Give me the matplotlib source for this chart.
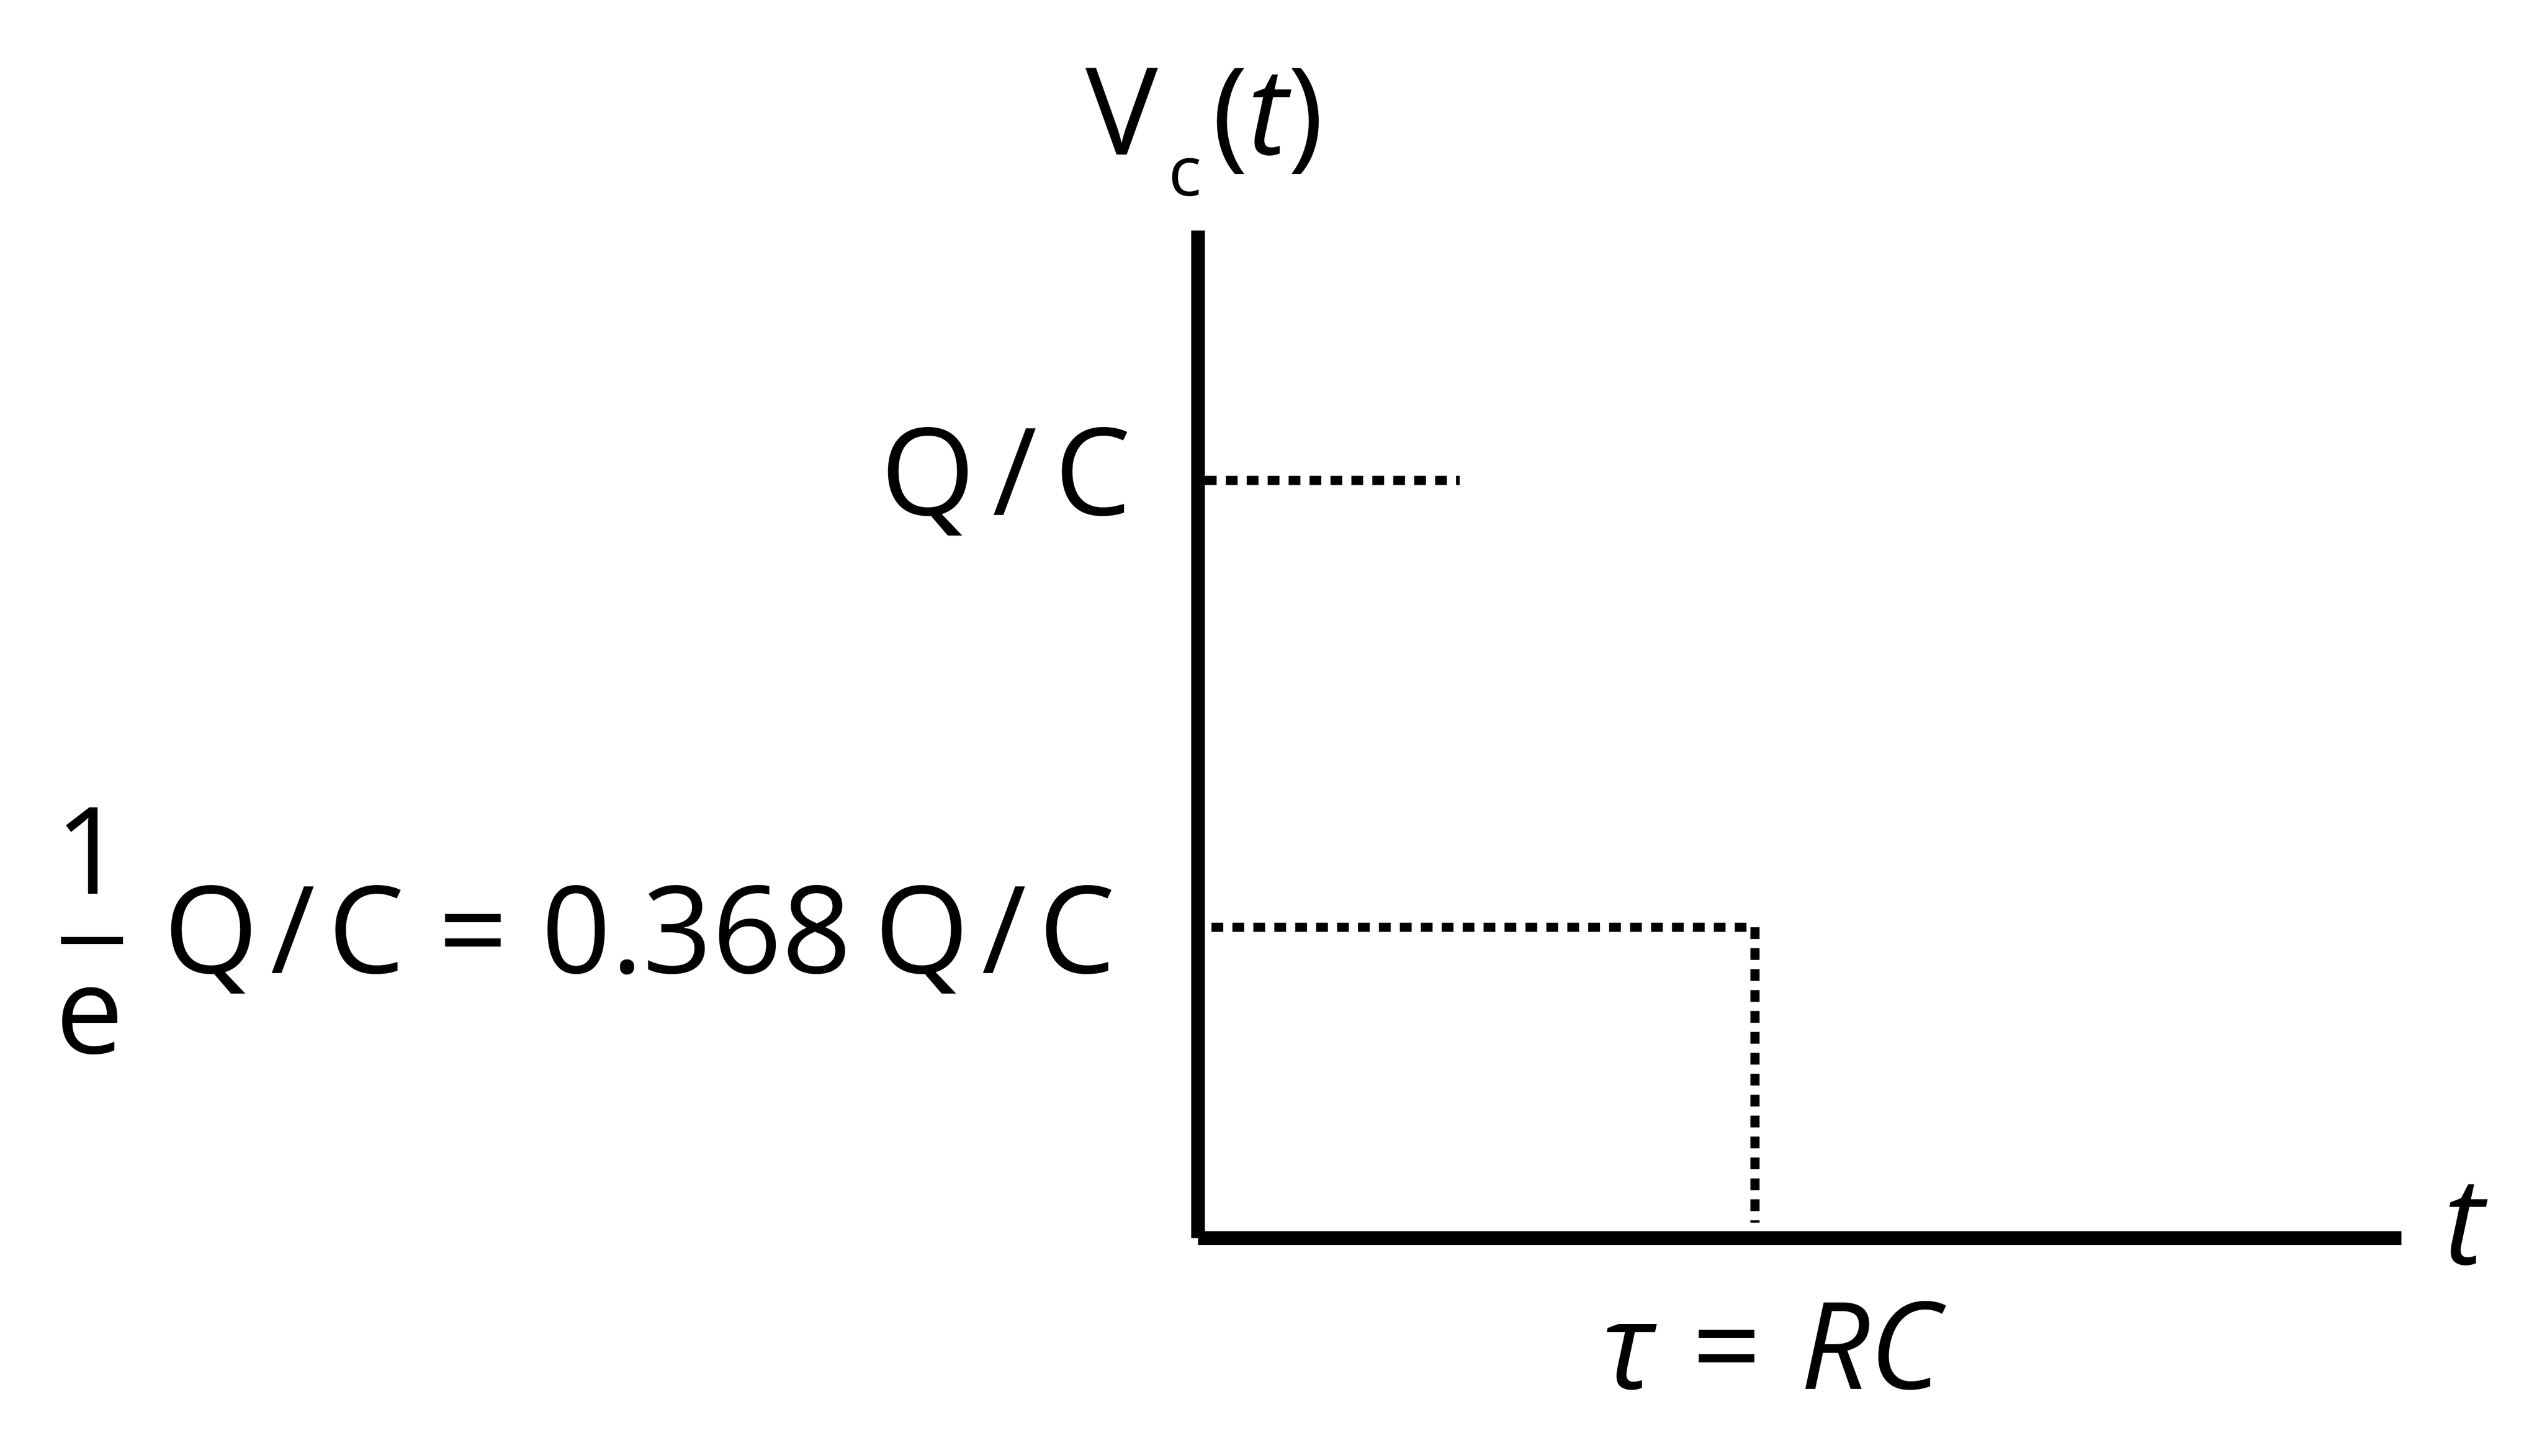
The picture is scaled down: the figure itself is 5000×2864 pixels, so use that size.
import numpy as np
import matplotlib
matplotlib.use("Agg")
import matplotlib.pyplot as plt

plt.rcParams['font.family'] = ['Open Sans', 'DejaVu Sans']
plt.rcParams['mathtext.fontset'] = 'custom'
plt.rcParams['mathtext.rm'] = 'Open Sans'
plt.rcParams['mathtext.it'] = 'Open Sans:italic'
plt.rcParams['mathtext.bf'] = 'Open Sans:bold'

# values as drawn (y in units of Q/C, x in units of tau)
tau = 1.0
qc_level = 1.0
e_level = 0.41
qc_line_end = 0.47
t_axis_end = 2.16
v_axis_end = 1.33

label_qc = r'$\mathrm{Q}\,/\,\mathrm{C}$'
sp = r'\hspace{0.12}'
label_e = (r'$\mathrm{Q}' + sp + '/' + sp + r'\mathrm{C}' + sp + '=' + sp +
           r'0.368\hspace{0.22}\mathrm{Q}' + sp + '/' + sp + r'\mathrm{C}$')
label_tau = r'$\tau\,=\,RC$'
label_t = r'$t$'

fig = plt.figure(figsize=(25, 14.32), dpi=200)
ax = fig.add_axes([0, 0, 1, 1])
ax.set_xlim(-2.1496, 2.4124)
ax.set_ylim(-0.2879, 1.6342)
ax.axis('off')

fs = 86
axis_lw = 9.7
dot_lw = 6.5
dots = (0, (1.28, 1.0))

# axes
ax.plot([0, 0], [0, v_axis_end], color='black', lw=axis_lw, solid_capstyle='butt')
ax.plot([0, t_axis_end], [0, 0], color='black', lw=axis_lw, solid_capstyle='butt')

# guide lines
ax.plot([0.013, qc_line_end], [qc_level, qc_level], color='black', lw=dot_lw,
        linestyle=dots, dash_capstyle='butt')
ax.plot([0.025, tau], [e_level, e_level], color='black', lw=dot_lw,
        linestyle=dots, dash_capstyle='butt')
ax.plot([tau, tau], [e_level, 0.02], color='black', lw=dot_lw,
        linestyle=dots, dash_capstyle='butt')

# labels
ax.text(-0.2016, 1.430, 'V', fontsize=fs, ha='left', va='baseline')
ax.text(-0.0533, 1.376, 'c', fontsize=fs * 0.57, ha='left', va='baseline')
ax.text(0.0246, 1.430, r'$(t)$', fontsize=fs, ha='left', va='baseline')

ax.text(-0.125, 0.955, label_qc, fontsize=fs, ha='right', va='baseline')

# 1/e fraction set by hand, then the rest of the equation
ax.text(-1.9891, 0.4544, '1', fontsize=fs, ha='center', va='baseline')
ax.text(-1.9891, 0.2436, 'e', fontsize=fs, ha='center', va='baseline')
ax.plot([-2.0401, -1.9288], [0.3926, 0.3926], color='black', lw=5,
        solid_capstyle='butt')
ax.text(-0.153, 0.3497, label_e, fontsize=fs, ha='right', va='baseline')

ax.text(2.235, -0.035, label_t, fontsize=fs, ha='left', va='baseline')
ax.text(1.035, -0.199, label_tau, fontsize=fs, ha='center', va='baseline')

fig.savefig('out.png', dpi=200, facecolor='white')
